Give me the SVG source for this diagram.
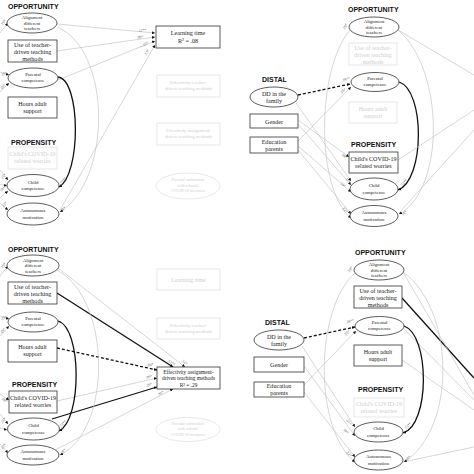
<svg xmlns="http://www.w3.org/2000/svg" width="474" height="474" viewBox="0 0 474 474">
<style>
.nb{fill:#fff;stroke:#333;stroke-width:0.8}
.nf{fill:#fff;stroke:#e2e2e2;stroke-width:0.8}
.t{font-family:'Liberation Serif',serif;font-size:6.1px;fill:#222;text-anchor:middle}
.s{font-size:4.8px}
.xs{font-size:4px}
.tf{fill:#cfcfcf}
.h{font-family:'Liberation Sans',sans-serif;font-weight:bold;font-size:7px;fill:#111}
.g{stroke:#c6c6c6;stroke-width:0.7;fill:none}
.k{stroke:#111;stroke-width:1.3;fill:none}
.d{stroke-dasharray:3 2}
.l{font-family:'Liberation Serif',serif;font-size:3.8px;fill:#555}
</style>
<defs>
<marker id="a" viewBox="0 0 6 6" refX="6" refY="3" markerWidth="3" markerHeight="3" markerUnits="userSpaceOnUse" orient="auto"><path d="M0,0L6,3L0,6z" fill="#111"/></marker>
</defs>
<rect width="474" height="474" fill="#fff"/>

<!-- ============ PANEL 1 ============ -->
<g id="p1-connectors">
<path class="g" d="M57,24L155,33" marker-end="url(#a)"/>
<path class="g" d="M57,51L155,37" marker-end="url(#a)"/>
<path class="g" d="M58,80L155,41" marker-end="url(#a)"/>
<path class="g" d="M60,210L155,45" marker-end="url(#a)"/>
<path class="g" d="M57,27C112,50 112,180 60,212" marker-end="url(#a)"/>
<path class="k" d="M58,77C81,80 81,175 59,187" marker-end="url(#a)"/>
<path class="g" d="M0,33L8,23" marker-end="url(#a)"/>
<path class="g" d="M0,72L9,75" marker-end="url(#a)"/>
<path class="g" d="M0,92L9,83" marker-end="url(#a)"/>
<path class="g" d="M0,170L8,180" marker-end="url(#a)"/>
<path class="g" d="M0,184L7,186" marker-end="url(#a)"/>
<path class="g" d="M0,198L8,191" marker-end="url(#a)"/>
<path class="g" d="M0,203L8,210" marker-end="url(#a)"/>
<text class="l" transform="translate(138,32) rotate(-6)">.11**</text>
<text class="l" transform="translate(137,39) rotate(-12)">.09*</text>
<text class="l" transform="translate(141,48) rotate(-30)">−.15*</text>
<text class="l" transform="translate(146,56) rotate(-58)">.13*</text>
<text class="l" transform="translate(61,185) rotate(-50)">.72**</text>
<text class="l" transform="translate(62,212) rotate(-45)">10*</text>
<text class="l" transform="translate(2,26) rotate(-50)">.19*</text>
<text class="l" transform="translate(1,76) rotate(-20)">.15*</text>
<text class="l" transform="translate(1,90) rotate(-45)">.25*</text>
<text class="l" transform="translate(2,180) rotate(-50)">.21*</text>
<text class="l" transform="translate(1,192) rotate(-40)">10*</text>
<text class="l" transform="translate(3,208) rotate(-50)">.22*</text>
</g>
<g id="p1-nodes">
<text class="h" x="8" y="9">OPPORTUNITY</text>
<g id="p1-align"><ellipse class="nb" cx="32" cy="23" rx="25" ry="10"/><text class="t s" x="32" y="19">Alignment</text><text class="t s" x="32" y="24.5">different</text><text class="t s" x="32" y="30">teachers</text></g>
<g id="p1-use"><rect class="nb" x="8" y="40" width="49" height="22"/><text class="t" x="32.5" y="46.5">Use of teacher-</text><text class="t" x="32.5" y="54">driven teaching</text><text class="t" x="32.5" y="61">methods</text></g>
<g id="p1-parental"><ellipse class="nb" cx="33" cy="78" rx="25" ry="10"/><text class="t s" x="33" y="76">Parental</text><text class="t s" x="33" y="82">competence</text></g>
<g id="p1-hours"><rect class="nb" x="8" y="97" width="49" height="21"/><text class="t" x="32.5" y="105.5">Hours adult</text><text class="t" x="32.5" y="113">support</text></g>
<text class="h" x="11" y="145">PROPENSITY</text>
<g id="p1-covid"><rect class="nf" x="8" y="147" width="49" height="22"/><text class="t tf" x="32.5" y="156">Child's COVID-19</text><text class="t tf" x="32.5" y="163">related worries</text></g>
<g id="p1-child"><ellipse class="nb" cx="33" cy="185.5" rx="26" ry="11"/><text class="t s" x="33" y="183.5">Child</text><text class="t s" x="33" y="190">competence</text></g>
<g id="p1-auto"><ellipse class="nb" cx="33" cy="214" rx="26" ry="11"/><text class="t s" x="33" y="212">Autonomous</text><text class="t s" x="33" y="218.5">motivation</text></g>
<g id="p1-lt"><rect class="nb" x="156" y="26" width="64" height="22"/><text class="t" x="188" y="35">Learning time</text><text class="t" x="188" y="42.5">R² = .08</text></g>
<g id="p1-eff-t"><rect class="nf" x="157" y="75" width="63" height="22"/><text class="t s tf" x="188.5" y="84">Effectivity teacher-</text><text class="t s tf" x="188.5" y="90">driven teaching methods</text></g>
<g id="p1-eff-a"><rect class="nf" x="157" y="123" width="63" height="22"/><text class="t s tf" x="188.5" y="132">Effectivity assignment-</text><text class="t s tf" x="188.5" y="138">driven teaching methods</text></g>
<g id="p1-sat"><ellipse class="nf" cx="188" cy="186" rx="32" ry="13"/><text class="t xs tf" x="188" y="181">Parental satisfaction</text><text class="t xs tf" x="188" y="186.5">with schools'</text><text class="t xs tf" x="188" y="192">COVID-19 measures</text></g>
</g>

<!-- ============ PANEL 2 ============ -->
<g id="p2-connectors">
<path class="k d" d="M298,95L350,84" marker-end="url(#a)"/>
<path class="g" d="M298,141L351,87" marker-end="url(#a)"/>
<path class="g" d="M298,120L349,157" marker-end="url(#a)"/>
<path class="g" d="M298,124L351,185" marker-end="url(#a)"/>
<path class="g" d="M296,103L351,181" marker-end="url(#a)"/>
<path class="g" d="M298,146L351,192" marker-end="url(#a)"/>
<path class="g" d="M298,150L351,214" marker-end="url(#a)"/>
<path class="g" d="M350,30C316,70 316,190 351,218" marker-end="url(#a)"/>
<path class="g" d="M398,30C445,70 445,190 399,214" marker-end="url(#a)"/>
<path class="k" d="M399,82C425,90 425,180 398,190" marker-end="url(#a)"/>
<path class="g" d="M398,30L474,75"/>
<path class="g" d="M398,160L474,110"/>
<path class="g" d="M399,213L474,130"/>
<text class="l" transform="translate(340,82) rotate(-15)">−.16**</text>
<text class="l" transform="translate(341,94) rotate(-40)">.25*</text>
<text class="l" transform="translate(341,155) rotate(35)">.08*</text>
<text class="l" transform="translate(343,177) rotate(45)">−.11*</text>
<text class="l" transform="translate(340,184) rotate(40)">10*</text>
<text class="l" transform="translate(342,208) rotate(50)">.22*</text>
<text class="l" transform="translate(344,30) rotate(-55)">.19*</text>
<text class="l" transform="translate(402,187) rotate(-50)">.72**</text>
<text class="l" transform="translate(403,216) rotate(-45)">10*</text>
</g>
<g id="p2-nodes">
<text class="h" x="348" y="12">OPPORTUNITY</text>
<g id="p2-align"><ellipse class="nb" cx="374" cy="27" rx="25" ry="10"/><text class="t s" x="374" y="23">Alignment</text><text class="t s" x="374" y="28.5">different</text><text class="t s" x="374" y="34">teachers</text></g>
<g id="p2-use"><rect class="nf" x="349" y="43" width="48" height="22"/><text class="t tf" x="373" y="49.5">Use of teacher-</text><text class="t tf" x="373" y="57">driven teaching</text><text class="t tf" x="373" y="64">methods</text></g>
<g id="p2-parental"><ellipse class="nb" cx="375" cy="82" rx="24" ry="9.5"/><text class="t s" x="375" y="80">Parental</text><text class="t s" x="375" y="86">competence</text></g>
<g id="p2-hours"><rect class="nf" x="349" y="102" width="48" height="21"/><text class="t tf" x="373" y="110.5">Hours adult</text><text class="t tf" x="373" y="118">support</text></g>
<text class="h" x="262" y="82">DISTAL</text>
<g id="p2-dd"><ellipse class="nb" cx="274" cy="97" rx="24" ry="10"/><text class="t" x="274" y="95.5">DD in the</text><text class="t" x="274" y="102.5">family</text></g>
<g id="p2-gender"><rect class="nb" x="250" y="114" width="48" height="14"/><text class="t" x="274" y="123.5">Gender</text></g>
<g id="p2-edu"><rect class="nb" x="250" y="137" width="48" height="16"/><text class="t" x="274" y="143.5">Education</text><text class="t" x="274" y="150.5">parents</text></g>
<text class="h" x="351" y="147">PROPENSITY</text>
<g id="p2-covid"><rect class="nb" x="349" y="152" width="49" height="21"/><text class="t" x="373.5" y="160.5">Child's COVID-19</text><text class="t" x="373.5" y="167.5">related worries</text></g>
<g id="p2-child"><ellipse class="nb" cx="374" cy="189" rx="24" ry="11"/><text class="t s" x="374" y="187">Child</text><text class="t s" x="374" y="193.5">competence</text></g>
<g id="p2-auto"><ellipse class="nb" cx="374" cy="216" rx="24" ry="10.5"/><text class="t s" x="374" y="214">Autonomous</text><text class="t s" x="374" y="220.5">motivation</text></g>
</g>

<!-- ============ PANEL 3 ============ -->
<g id="p3-connectors">
<path class="k" d="M57,293L173,367" marker-end="url(#a)"/>
<path class="g" d="M58,268L185,367" marker-end="url(#a)"/>
<path class="k d" d="M57,348L157,370" marker-end="url(#a)"/>
<path class="g" d="M57,401L157,378" marker-end="url(#a)"/>
<path class="k" d="M52,419L157,387" marker-end="url(#a)"/>
<path class="g" d="M55,450L173,389" marker-end="url(#a)"/>
<path class="g" d="M57,270C112,300 112,430 60,455" marker-end="url(#a)"/>
<path class="k" d="M58,321C82,328 82,420 59,431" marker-end="url(#a)"/>
<path class="g" d="M0,276L8,266" marker-end="url(#a)"/>
<path class="g" d="M0,316L9,319" marker-end="url(#a)"/>
<path class="g" d="M0,336L9,326" marker-end="url(#a)"/>
<path class="g" d="M0,394L9,400" marker-end="url(#a)"/>
<path class="g" d="M0,414L8,424" marker-end="url(#a)"/>
<path class="g" d="M0,428L7,430" marker-end="url(#a)"/>
<path class="g" d="M0,444L8,453" marker-end="url(#a)"/>
<text class="l" transform="translate(167,361) rotate(35)">.52**</text>
<text class="l" transform="translate(181,361) rotate(40)">.54*</text>
<text class="l" transform="translate(145,367) rotate(-10)">−.08*</text>
<text class="l" transform="translate(146,379) rotate(-15)">.09*</text>
<text class="l" transform="translate(146,387) rotate(-20)">.16*</text>
<text class="l" transform="translate(158,396) rotate(-28)">.36*</text>
<text class="l" transform="translate(61,428) rotate(-50)">.72**</text>
<text class="l" transform="translate(62,454) rotate(-45)">10*</text>
<text class="l" transform="translate(2,269) rotate(-50)">.19*</text>
<text class="l" transform="translate(1,320) rotate(-20)">.15*</text>
<text class="l" transform="translate(1,334) rotate(-45)">.25*</text>
<text class="l" transform="translate(1,399) rotate(35)">.08*</text>
<text class="l" transform="translate(2,424) rotate(-50)">.21*</text>
<text class="l" transform="translate(2,450) rotate(-50)">.22*</text>
</g>
<g id="p3-nodes">
<text class="h" x="8" y="252">OPPORTUNITY</text>
<g id="p3-align"><ellipse class="nb" cx="33" cy="265.5" rx="26" ry="10.5"/><text class="t s" x="33" y="261.5">Alignment</text><text class="t s" x="33" y="267">different</text><text class="t s" x="33" y="272.5">teachers</text></g>
<g id="p3-use"><rect class="nb" x="8" y="282" width="49" height="22"/><text class="t" x="32.5" y="288.5">Use of teacher-</text><text class="t" x="32.5" y="296">driven teaching</text><text class="t" x="32.5" y="303">methods</text></g>
<g id="p3-parental"><ellipse class="nb" cx="33" cy="322" rx="25" ry="10"/><text class="t s" x="33" y="320">Parental</text><text class="t s" x="33" y="326">competence</text></g>
<g id="p3-hours"><rect class="nb" x="8" y="340" width="49" height="22"/><text class="t" x="32.5" y="348.5">Hours adult</text><text class="t" x="32.5" y="356">support</text></g>
<text class="h" x="12" y="387">PROPENSITY</text>
<g id="p3-covid"><rect class="nb" x="9" y="391" width="48" height="22"/><text class="t" x="33" y="400">Child's COVID-19</text><text class="t" x="33" y="407">related worries</text></g>
<g id="p3-child"><ellipse class="nb" cx="33.5" cy="429" rx="26" ry="11"/><text class="t s" x="33.5" y="427">Child</text><text class="t s" x="33.5" y="433.5">competence</text></g>
<g id="p3-auto"><ellipse class="nb" cx="33" cy="455" rx="26" ry="10"/><text class="t s" x="33" y="453">Autonomous</text><text class="t s" x="33" y="459.5">motivation</text></g>
<g id="p3-lt"><rect class="nf" x="157" y="269" width="63" height="21"/><text class="t tf" x="188.5" y="281.5">Learning time</text></g>
<g id="p3-eff-t"><rect class="nf" x="157" y="318" width="63" height="21"/><text class="t s tf" x="188.5" y="327">Effectivity teacher-</text><text class="t s tf" x="188.5" y="333">driven teaching methods</text></g>
<g id="p3-eff-a"><rect class="nb" x="157" y="367" width="63" height="22"/><text class="t s" x="188.5" y="373.5" style="font-size:5.4px">Effectivity assignment-</text><text class="t s" x="188.5" y="380" style="font-size:5.4px">driven teaching methods</text><text class="t s" x="188.5" y="386.5" style="font-size:5.4px">R² = .29</text></g>
<g id="p3-sat"><ellipse class="nf" cx="188" cy="429.5" rx="32" ry="12"/><text class="t xs tf" x="188" y="424.5">Parental satisfaction</text><text class="t xs tf" x="188" y="430">with schools'</text><text class="t xs tf" x="188" y="435.5">COVID-19 measures</text></g>
</g>

<!-- ============ PANEL 4 ============ -->
<g id="p4-connectors">
<path class="k" d="M402,298L474,378"/>
<path class="g" d="M403,272L474,395"/>
<path class="g" d="M403,328L474,400"/>
<path class="g" d="M402,360L474,410"/>
<path class="g" d="M403,462L474,447"/>
<path class="k d" d="M304,338L355,327" marker-end="url(#a)"/>
<path class="g" d="M304,385L356,331" marker-end="url(#a)"/>
<path class="g" d="M302,346L355,427" marker-end="url(#a)"/>
<path class="g" d="M304,366L355,436" marker-end="url(#a)"/>
<path class="g" d="M304,392L355,457" marker-end="url(#a)"/>
<path class="g" d="M355,273C314,310 314,430 355,462" marker-end="url(#a)"/>
<path class="g" d="M403,272C456,310 456,430 404,462" marker-end="url(#a)"/>
<path class="k" d="M404,326C430,335 430,425 403,433" marker-end="url(#a)"/>
<text class="l" transform="translate(349,273) rotate(-55)">.19*</text>
<text class="l" transform="translate(344,324) rotate(-15)">−.16**</text>
<text class="l" transform="translate(345,336) rotate(-40)">.25*</text>
<text class="l" transform="translate(346,420) rotate(55)">.21*</text>
<text class="l" transform="translate(343,430) rotate(45)">10*</text>
<text class="l" transform="translate(346,452) rotate(50)">.22*</text>
<text class="l" transform="translate(406,430) rotate(-50)">.72**</text>
<text class="l" transform="translate(407,461) rotate(-45)">10*</text>
</g>
<g id="p4-nodes">
<text class="h" x="355" y="255">OPPORTUNITY</text>
<g id="p4-align"><ellipse class="nb" cx="379" cy="270" rx="25" ry="10"/><text class="t s" x="379" y="266">Alignment</text><text class="t s" x="379" y="271.5">different</text><text class="t s" x="379" y="277">teachers</text></g>
<g id="p4-use"><rect class="nb" x="354" y="286" width="48" height="22"/><text class="t" x="378" y="292.5">Use of teacher-</text><text class="t" x="378" y="300">driven teaching</text><text class="t" x="378" y="307">methods</text></g>
<g id="p4-parental"><ellipse class="nb" cx="379.5" cy="326" rx="24.5" ry="9.5"/><text class="t s" x="379.5" y="324">Parental</text><text class="t s" x="379.5" y="330">competence</text></g>
<g id="p4-hours"><rect class="nb" x="354" y="345" width="48" height="21"/><text class="t" x="378" y="353.5">Hours adult</text><text class="t" x="378" y="361">support</text></g>
<text class="h" x="265" y="325">DISTAL</text>
<g id="p4-dd"><ellipse class="nb" cx="279" cy="340" rx="25" ry="10"/><text class="t" x="279" y="338.5">DD in the</text><text class="t" x="279" y="345.5">family</text></g>
<g id="p4-gender"><rect class="nb" x="254" y="357" width="50" height="15"/><text class="t" x="279" y="366.5">Gender</text></g>
<g id="p4-edu"><rect class="nb" x="254" y="382" width="50" height="15"/><text class="t" x="279" y="388">Education</text><text class="t" x="279" y="395">parents</text></g>
<text class="h" x="358" y="392">PROPENSITY</text>
<g id="p4-covid"><rect class="nf" x="354" y="398" width="50" height="19"/><text class="t tf" x="379" y="406">Child's COVID-19</text><text class="t tf" x="379" y="413">related worries</text></g>
<g id="p4-child"><ellipse class="nb" cx="378.5" cy="432" rx="24.5" ry="10"/><text class="t s" x="378.5" y="430">Child</text><text class="t s" x="378.5" y="436.5">competence</text></g>
<g id="p4-auto"><ellipse class="nb" cx="378.5" cy="460" rx="24.5" ry="10"/><text class="t s" x="378.5" y="458">Autonomous</text><text class="t s" x="378.5" y="464.5">motivation</text></g>
</g>
</svg>
